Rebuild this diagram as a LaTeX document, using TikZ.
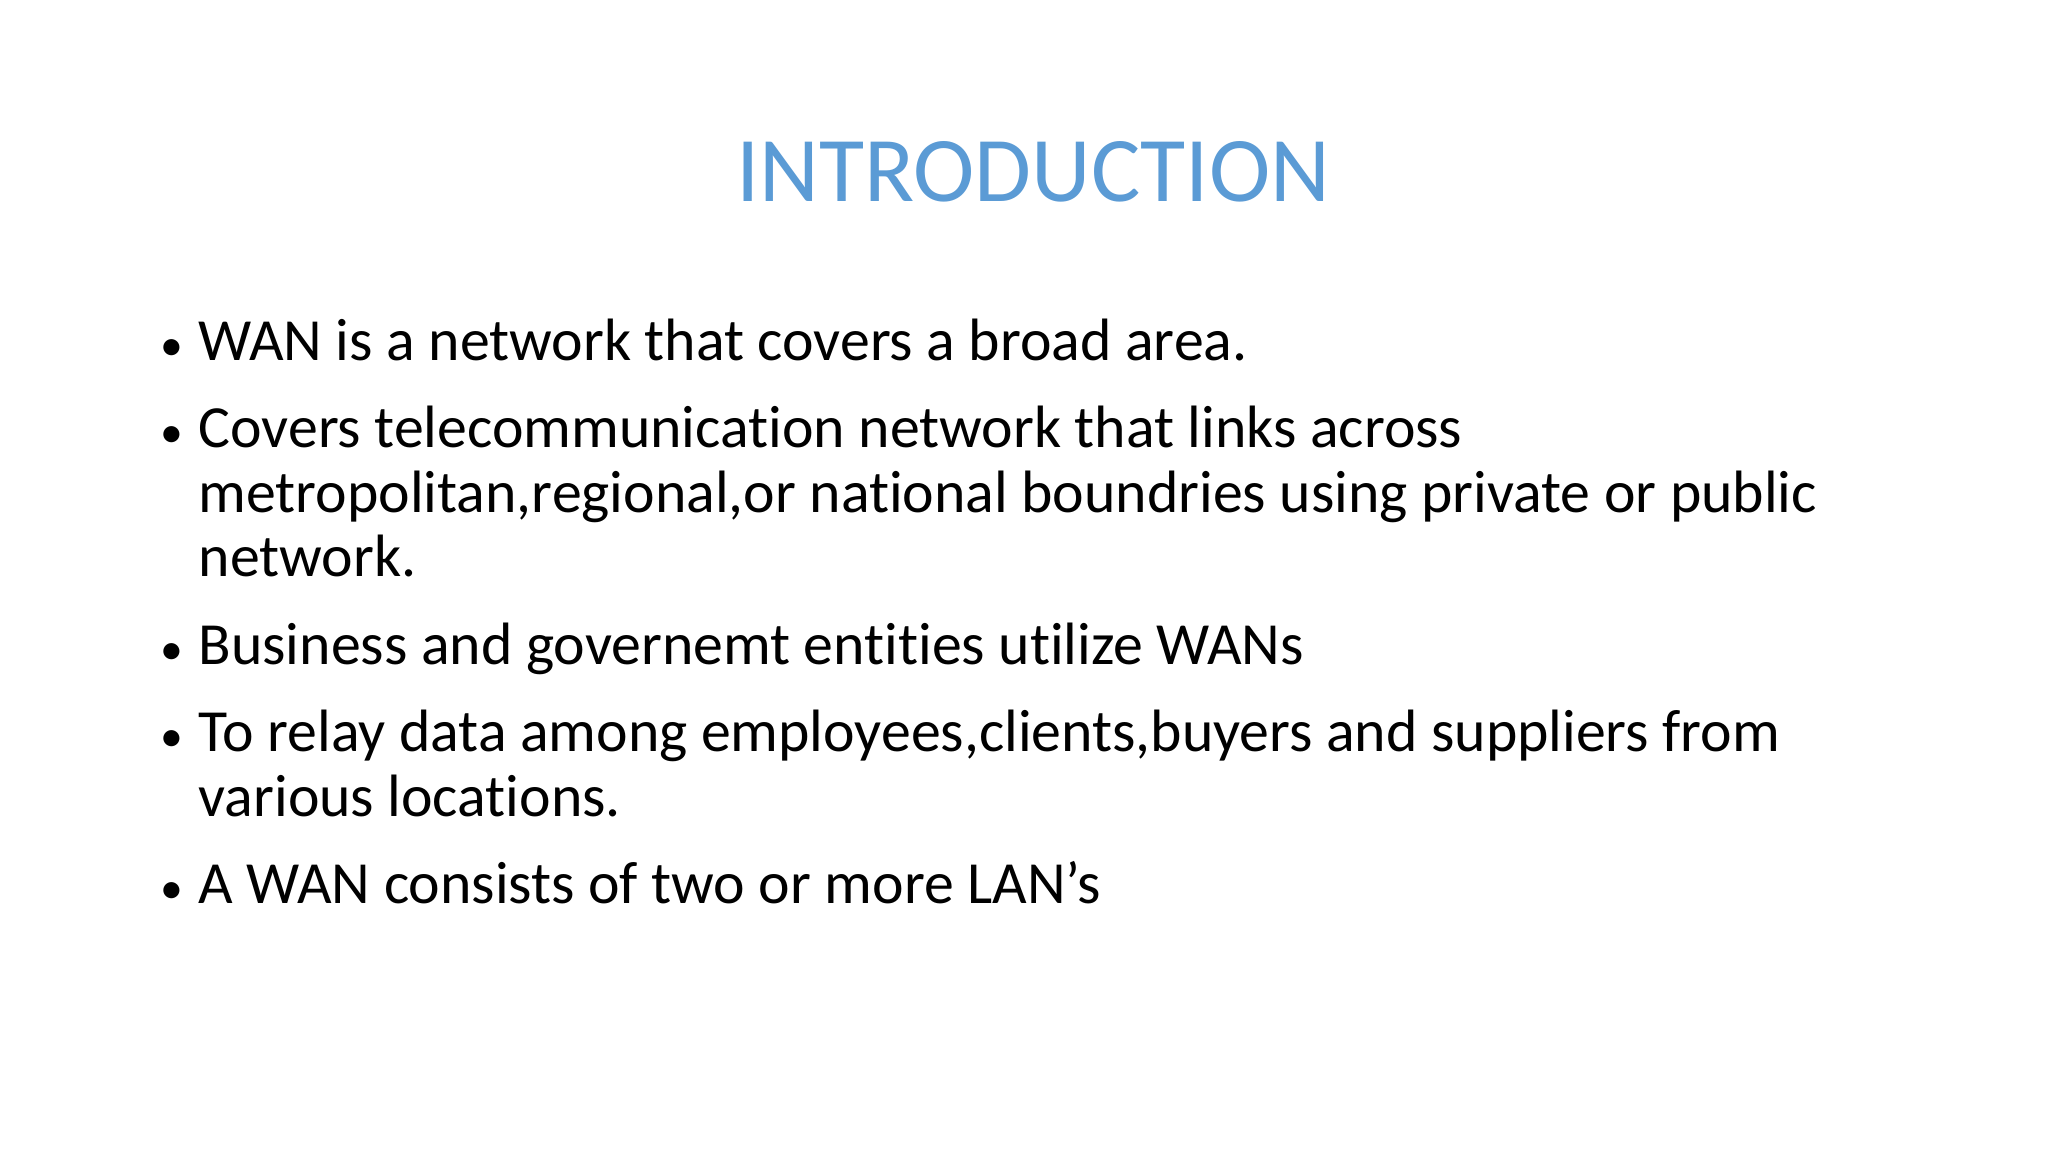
\documentclass[tikz,border=0pt]{standalone}
\usepackage{fontspec}
\setmainfont{Carlito}[Ligatures={NoCommon,NoRequired}]
\definecolor{titleblue}{HTML}{5B9BD5}
\begin{document}
\begin{tikzpicture}[x=0.01cm,y=-0.01cm,
  line/.style={anchor=base west,inner sep=0pt,font=\fontsize{17pt}{20pt}\selectfont},
  bul/.style={anchor=base west,inner sep=0pt,font=\fontsize{13pt}{20pt}\selectfont}]
\useasboundingbox[fill=white] (0,0) rectangle (2048,1152);
\node[anchor=base,inner sep=0pt,text=titleblue,font=\fontsize{26.3pt}{32pt}\selectfont] (title) at (1033,202) {INTRODUCTION};
\node[bul] (b1) at (160,361) {•};
\node[line] (l1) at (198,361) {WAN is a network that covers a broad area.};
\node[bul] (b2) at (160,448) {•};
\node[line] (l2) at (198,448) {Covers telecommunication network that links across};
\node[line] (l3) at (198,513) {metropolitan,regional,or national boundries using private or public};
\node[line] (l4) at (198,577) {network.};
\node[bul] (b3) at (160,664) {•};
\node[line] (l5) at (198,664) {Business and governemt entities utilize WANs};
\node[bul] (b4) at (160,751) {•};
\node[line] (l6) at (198,751) {To relay data among employees,clients,buyers and suppliers from};
\node[line] (l7) at (198,816) {various locations.};
\node[bul] (b5) at (160,903) {•};
\node[line] (l8) at (198,903) {A WAN consists of two or more LAN{\char"27}s};
\end{tikzpicture}
\end{document}
